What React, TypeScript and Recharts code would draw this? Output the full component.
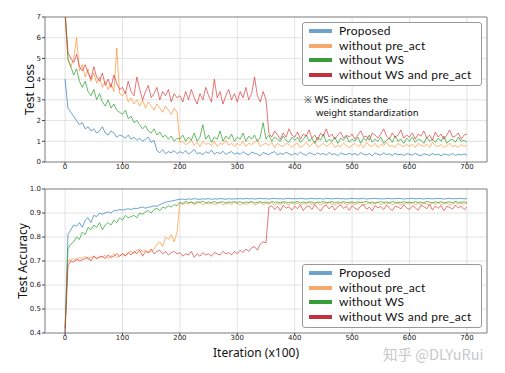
import React from "react";
import { CartesianGrid, Legend, Line, LineChart, ReferenceArea, XAxis, YAxis } from "recharts";

// x positions: one sample every 5 iterations (x100)
const ITERATIONS = Array.from({ length: 141 }, (_, i) => i * 5);
const X_TICKS = [0, 100, 200, 300, 400, 500, 600, 700];
const LOSS_TICKS = [0, 1, 2, 3, 4, 5, 6, 7];
const ACC_TICKS = [0.4, 0.5, 0.6, 0.7, 0.8, 0.9, 1.0];

// test loss
const LOSS_PROPOSED = [
  4.0, 2.6, 2.4, 2.2, 2.0, 1.8, 1.9, 1.6, 1.7, 1.5, 1.6, 1.4, 1.5, 1.7, 1.4, 1.3, 1.5, 1.4, 1.2, 1.3,
  1.25, 1.15, 1.3, 1.1, 1.2, 1.05, 1.15, 1.0, 1.1, 1.2, 0.95, 1.05, 0.55, 0.45, 0.6, 0.4, 0.5, 0.45, 0.55, 0.4,
  0.5, 0.42, 0.55, 0.38, 0.48, 0.6, 0.4, 0.45, 0.35, 0.5, 0.42, 0.58, 0.38, 0.47, 0.4, 0.52, 0.36, 0.45, 0.5, 0.38,
  0.44, 0.36, 0.5, 0.4, 0.33, 0.48, 0.42, 0.38, 0.3, 0.46, 0.4, 0.35, 0.45, 0.5, 0.34, 0.42, 0.37, 0.47, 0.4, 0.33,
  0.42, 0.35, 0.48, 0.38, 0.32, 0.45, 0.4, 0.34, 0.44, 0.37, 0.41, 0.33, 0.46, 0.36, 0.4, 0.31, 0.43, 0.38, 0.35, 0.42,
  0.36, 0.41, 0.32, 0.45, 0.38, 0.34, 0.4, 0.3, 0.43, 0.37, 0.33, 0.44, 0.36, 0.39, 0.31, 0.42, 0.35, 0.38, 0.32, 0.4,
  0.37, 0.33, 0.42, 0.35, 0.3, 0.4, 0.36, 0.32, 0.41, 0.34, 0.38, 0.3, 0.39, 0.35, 0.33, 0.41, 0.32, 0.37, 0.34, 0.39,
  0.33,
];
const LOSS_NO_PREACT = [
  7.2, 4.9, 4.6, 5.0, 6.0, 4.4, 4.7, 4.1, 4.5, 3.9, 4.3, 3.8, 4.1, 3.6, 3.9, 3.5, 3.8, 3.4, 5.5, 3.3,
  3.2, 3.4, 2.9, 3.1, 2.8, 3.0, 2.7, 3.0, 2.6, 2.9, 2.7, 2.5, 2.8, 2.6, 2.4, 2.7, 2.5, 2.3, 2.6, 2.4,
  0.95, 1.0, 0.85, 0.9, 1.05, 0.8, 0.95, 0.75, 1.0, 0.85, 0.9, 0.8, 1.0, 0.75, 0.9, 0.85, 1.05, 0.8, 0.9, 0.75,
  0.9, 0.8, 1.0, 0.75, 0.9, 0.85, 0.95, 1.05, 0.75, 0.85, 0.9, 0.8, 0.95, 0.7, 0.9, 0.8, 0.75, 0.9, 0.85, 0.7,
  0.85, 0.9, 0.7, 0.8, 0.95, 0.75, 0.85, 1.0, 0.7, 0.8, 0.9, 0.75, 0.85, 0.95, 0.7, 0.8, 0.75, 0.9, 0.8, 0.7,
  0.8, 0.9, 0.75, 0.85, 0.7, 0.95, 0.8, 0.75, 0.9, 0.7, 0.85, 0.8, 0.95, 0.75, 0.8, 0.7, 0.9, 0.8, 0.75, 0.85,
  0.75, 0.85, 0.7, 0.9, 0.8, 0.75, 0.85, 0.7, 0.95, 0.8, 0.75, 0.85, 0.7, 0.8, 0.9, 0.75, 0.8, 0.7, 0.85, 0.75,
  0.8,
];
const LOSS_NO_WS = [
  7.2, 5.0, 4.6, 4.2, 4.5, 3.9, 3.6, 3.9, 3.4, 3.2, 3.5, 3.0, 3.3, 2.9, 2.7, 3.0, 2.6, 2.8, 2.5, 2.4,
  2.3, 2.5, 2.1, 2.2, 1.9, 2.0, 1.8, 1.6, 1.75, 1.5, 1.4, 1.6, 1.3, 1.45, 1.2, 1.3, 1.1, 1.25, 1.0, 1.15,
  1.1, 1.3, 1.0, 1.2, 1.05, 1.4, 1.0, 1.2, 1.8, 1.1, 1.3, 0.95, 1.2, 1.1, 1.5, 1.0, 1.25, 1.1, 1.35, 1.0,
  1.2, 1.1, 1.4, 1.0, 1.25, 1.1, 1.3, 1.0, 1.2, 1.9, 1.1, 1.3, 1.0, 1.2, 1.1, 1.0, 1.25, 1.05, 0.95, 1.2,
  1.05, 1.2, 0.95, 1.1, 1.3, 1.0, 1.15, 0.9, 1.2, 1.05, 1.35, 0.95, 1.1, 1.0, 1.2, 0.9, 1.15, 1.05, 1.25, 0.95,
  1.1, 1.0, 1.2, 0.9, 1.15, 1.05, 1.3, 0.95, 1.1, 1.0, 1.2, 0.9, 1.05, 1.15, 0.95, 1.25, 1.0, 1.1, 0.9, 1.15,
  1.0, 1.2, 0.95, 1.1, 1.05, 0.9, 1.2, 1.0, 1.1, 0.95, 1.15, 1.0, 1.25, 0.9, 1.05, 1.1, 0.95, 1.2, 1.0, 1.05,
  0.95,
];
const LOSS_NO_WS_PREACT = [
  7.2, 5.3, 5.0, 4.8, 5.2, 4.6, 4.4, 4.7, 4.3, 4.0, 4.6, 4.1, 3.9, 4.3, 3.7, 4.0, 3.6, 4.2, 3.8, 3.5,
  3.6, 3.3, 3.9, 3.4, 3.2, 4.1, 3.5, 3.0, 3.4, 3.7, 3.1, 3.3, 3.6, 3.0, 3.4, 3.2, 3.5, 2.9, 3.3, 3.1,
  3.2, 2.9, 3.4, 3.0, 3.5, 3.1, 2.8, 3.3, 3.0, 3.6, 3.2, 2.9, 4.0, 3.1, 3.4, 2.8, 3.2, 3.5, 3.0, 3.3,
  2.9, 3.4, 3.1, 3.6, 3.0, 3.3, 4.1, 3.2, 2.9, 3.4, 3.0, 1.4, 1.2, 1.5, 1.3, 1.1, 1.4, 1.2, 1.6, 1.3,
  1.2, 1.45, 1.1, 1.35, 1.25, 1.55, 1.15, 1.3, 1.05, 1.4, 1.25, 1.6, 1.2, 1.35, 1.1, 1.3, 1.45, 1.15, 1.3, 1.2,
  1.35, 1.1, 1.3, 1.5, 1.2, 1.25, 1.05, 1.4, 1.3, 1.15, 1.35, 1.6, 1.25, 1.1, 1.4, 1.2, 1.3, 1.55, 1.15, 1.3,
  1.2, 1.4, 1.1, 1.35, 1.25, 1.5, 1.15, 1.3, 1.05, 1.45, 1.2, 1.35, 1.1, 1.3, 1.55, 1.2, 1.25, 1.4, 1.1, 1.3,
  1.35,
];

// test accuracy
const ACC_PROPOSED = [
  0.4, 0.81, 0.83, 0.85, 0.845, 0.86, 0.84, 0.87, 0.88, 0.86, 0.89, 0.885, 0.9, 0.895, 0.9, 0.905, 0.9, 0.91, 0.91, 0.915,
  0.912, 0.915, 0.918, 0.914, 0.92, 0.918, 0.922, 0.925, 0.92, 0.924, 0.926, 0.93, 0.928, 0.935, 0.94, 0.945, 0.948, 0.95, 0.952, 0.955,
  0.957, 0.958, 0.956, 0.959, 0.957, 0.96, 0.958, 0.957, 0.959, 0.958, 0.96, 0.957, 0.959, 0.958, 0.96, 0.959, 0.957, 0.96, 0.958, 0.959,
  0.959, 0.96, 0.958, 0.961, 0.959, 0.96, 0.958, 0.96, 0.961, 0.959, 0.96, 0.958, 0.96, 0.961, 0.959, 0.96, 0.958, 0.96, 0.961, 0.959,
  0.96, 0.959, 0.961, 0.96, 0.958, 0.96, 0.961, 0.959, 0.96, 0.96, 0.958, 0.961, 0.96, 0.959, 0.96, 0.961, 0.959, 0.96, 0.958, 0.96,
  0.961, 0.96, 0.959, 0.96, 0.961, 0.958, 0.96, 0.96, 0.961, 0.959, 0.96, 0.958, 0.961, 0.96, 0.959, 0.96, 0.961, 0.96, 0.958, 0.96,
  0.96, 0.961, 0.959, 0.96, 0.96, 0.958, 0.961, 0.96, 0.959, 0.96, 0.961, 0.96, 0.958, 0.96, 0.961, 0.959, 0.96, 0.96, 0.961, 0.959,
  0.96,
];
const ACC_NO_PREACT = [
  0.42, 0.7, 0.705, 0.71, 0.7, 0.715, 0.71, 0.72, 0.705, 0.715, 0.72, 0.71, 0.72, 0.715, 0.725, 0.71, 0.72, 0.73, 0.715, 0.72,
  0.73, 0.725, 0.735, 0.74, 0.73, 0.745, 0.75, 0.74, 0.745, 0.735, 0.74, 0.75, 0.77, 0.78, 0.76, 0.8, 0.79, 0.81, 0.78, 0.82,
  0.94, 0.935, 0.942, 0.938, 0.944, 0.936, 0.94, 0.946, 0.933, 0.941, 0.937, 0.943, 0.935, 0.94, 0.945, 0.934, 0.939, 0.942, 0.936, 0.944,
  0.938, 0.933, 0.942, 0.936, 0.94, 0.945, 0.934, 0.939, 0.943, 0.935, 0.941, 0.937, 0.944, 0.932, 0.94, 0.936, 0.943, 0.938, 0.934, 0.941,
  0.936, 0.942, 0.933, 0.94, 0.937, 0.945, 0.935, 0.939, 0.943, 0.934, 0.941, 0.936, 0.944, 0.938, 0.933, 0.94, 0.937, 0.942, 0.935, 0.939,
  0.941, 0.935, 0.94, 0.944, 0.933, 0.938, 0.942, 0.936, 0.939, 0.945, 0.934, 0.94, 0.937, 0.943, 0.935, 0.939, 0.941, 0.933, 0.938, 0.942,
  0.937, 0.943, 0.934, 0.94, 0.936, 0.942, 0.938, 0.933, 0.941, 0.936, 0.944, 0.935, 0.939, 0.942, 0.934, 0.938, 0.943, 0.936, 0.94, 0.937,
  0.94,
];
const ACC_NO_WS = [
  0.42, 0.75, 0.77, 0.78, 0.8, 0.79, 0.82, 0.81, 0.84, 0.83, 0.85, 0.84, 0.86, 0.83, 0.85, 0.86, 0.85, 0.87, 0.86, 0.88,
  0.87, 0.89, 0.88, 0.885, 0.89, 0.88, 0.9, 0.895, 0.905, 0.91, 0.9, 0.915, 0.92, 0.91, 0.925, 0.92, 0.93, 0.925, 0.935, 0.93,
  0.945, 0.94, 0.948, 0.943, 0.946, 0.94, 0.947, 0.944, 0.949, 0.942, 0.946, 0.943, 0.948, 0.941, 0.945, 0.947, 0.942, 0.946, 0.944, 0.948,
  0.943, 0.947, 0.941, 0.946, 0.944, 0.948, 0.942, 0.945, 0.947, 0.943, 0.946, 0.941, 0.948, 0.944, 0.946, 0.942, 0.947, 0.945, 0.943, 0.946,
  0.944, 0.948, 0.942, 0.946, 0.943, 0.947, 0.945, 0.941, 0.946, 0.944, 0.948, 0.943, 0.945, 0.947, 0.942, 0.946, 0.944, 0.948, 0.943, 0.945,
  0.946, 0.942, 0.947, 0.944, 0.945, 0.948, 0.943, 0.946, 0.941, 0.945, 0.947, 0.944, 0.946, 0.942, 0.948, 0.944, 0.945, 0.943, 0.947, 0.944,
  0.945, 0.943, 0.947, 0.944, 0.946, 0.942, 0.948, 0.945, 0.943, 0.946, 0.944, 0.947, 0.942, 0.945, 0.946, 0.943, 0.948, 0.944, 0.945, 0.946,
  0.944,
];
const ACC_NO_WS_PREACT = [
  0.4, 0.68, 0.7, 0.695, 0.71, 0.7, 0.705, 0.71, 0.715, 0.7, 0.72, 0.71, 0.715, 0.72, 0.71, 0.725, 0.715, 0.72, 0.73, 0.72,
  0.73, 0.72, 0.735, 0.725, 0.74, 0.73, 0.745, 0.72, 0.74, 0.735, 0.75, 0.73, 0.74, 0.745, 0.73, 0.74, 0.725, 0.735, 0.74, 0.73,
  0.735, 0.72, 0.73, 0.725, 0.74, 0.715, 0.73, 0.72, 0.735, 0.725, 0.73, 0.72, 0.735, 0.73, 0.725, 0.74, 0.73, 0.735, 0.725, 0.74,
  0.73, 0.745, 0.735, 0.75, 0.74, 0.755, 0.76, 0.745, 0.77, 0.78, 0.775, 0.925, 0.93, 0.915, 0.928, 0.91, 0.932, 0.92, 0.926, 0.912,
  0.928, 0.918, 0.933, 0.91, 0.925, 0.93, 0.915, 0.935, 0.92, 0.908, 0.927, 0.932, 0.917, 0.93, 0.912, 0.926, 0.934, 0.919, 0.928, 0.911,
  0.93, 0.92, 0.913, 0.929, 0.935, 0.916, 0.924, 0.909, 0.931, 0.922, 0.927, 0.914, 0.933, 0.92, 0.91, 0.928, 0.925, 0.917, 0.934, 0.921,
  0.915, 0.93, 0.922, 0.911, 0.932, 0.926, 0.918, 0.935, 0.913, 0.929, 0.92, 0.931, 0.909, 0.927, 0.924, 0.916, 0.933, 0.921, 0.928, 0.914,
  0.925,
];

const SERIES = [
  { key: "proposed", name: "Proposed", color: "#1f77b4", opacity: 0.75, swatch: "#6fa3cb" },
  { key: "noPreact", name: "without pre_act", color: "#ff7f0e", opacity: 0.65, swatch: "#f6a96b" },
  { key: "noWs", name: "without WS", color: "#2ca02c", opacity: 0.8, swatch: "#3a9b3a" },
  { key: "noWsPreact", name: "without WS and pre_act", color: "#d62728", opacity: 0.7, swatch: "#c4323e" },
];

const lossData = ITERATIONS.map((it, i) => ({
  it,
  proposed: LOSS_PROPOSED[i],
  noPreact: LOSS_NO_PREACT[i],
  noWs: LOSS_NO_WS[i],
  noWsPreact: LOSS_NO_WS_PREACT[i],
}));

const accData = ITERATIONS.map((it, i) => ({
  it,
  proposed: ACC_PROPOSED[i],
  noPreact: ACC_NO_PREACT[i],
  noWs: ACC_NO_WS[i],
  noWsPreact: ACC_NO_WS_PREACT[i],
}));

const LABEL_FONT = "'Noto Sans', 'Open Sans', sans-serif";
const TICK = { fontSize: 7, fill: "#222", fontFamily: "'DejaVu Sans', sans-serif" };

function BoxLegend() {
  return (
    <div
      style={{
        border: "1px solid #999",
        borderRadius: 3,
        background: "rgba(255,255,255,0.92)",
        padding: "1px 6px 3px 6px",
        boxSizing: "border-box",
        width: 180,
        fontFamily: "Lato, 'Noto Sans', sans-serif",
      }}
    >
      {SERIES.map((s) => (
        <div key={s.key} style={{ display: "flex", alignItems: "center", height: 14.5 }}>
          <span style={{ width: 23, height: 4, background: s.swatch, marginRight: 7, flex: "none" }} />
          <span style={{ fontSize: 12, letterSpacing: 0.25, color: "#111", whiteSpace: "nowrap", lineHeight: "14px" }}>
            {s.name}
          </span>
        </div>
      ))}
    </div>
  );
}

function Panel({
  data,
  height,
  top,
  bottom,
  yDomain,
  yTicks,
  yLabel,
  yLabelOffset,
  legendTop,
  fmt,
}: {
  data: Array<Record<string, number>>;
  height: number;
  top: number;
  bottom: number;
  yDomain: [number, number];
  yTicks: number[];
  yLabel: string;
  yLabelOffset: number;
  legendTop: number;
  fmt: (v: number) => string;
}) {
  return (
    <LineChart width={505} height={height} data={data} margin={{ top, right: 18, left: 0, bottom }}>
      <CartesianGrid stroke="#dcdcdc" strokeWidth={0.8} />
      <XAxis
        dataKey="it"
        type="number"
        domain={[-35, 735]}
        ticks={X_TICKS}
        allowDataOverflow
        axisLine={false}
        tickLine={{ stroke: "#444" }}
        tickSize={2.5}
        tickMargin={0}
        tick={TICK}
        height={18}
        interval={0}
      />
      <YAxis
        type="number"
        domain={yDomain}
        ticks={yTicks}
        allowDataOverflow
        axisLine={false}
        tickLine={{ stroke: "#444" }}
        tickSize={3}
        tickMargin={1}
        tick={TICK}
        width={45}
        interval={0}
        tickFormatter={fmt}
        label={{
          value: yLabel,
          angle: -90,
          position: "insideLeft",
          offset: yLabelOffset,
          style: { textAnchor: "middle", fontSize: 12, fontFamily: LABEL_FONT, fill: "#111" },
        }}
      />
      {SERIES.map((s) => (
        <Line
          key={s.key}
          dataKey={s.key}
          name={s.name}
          type="linear"
          stroke={s.color}
          strokeOpacity={s.opacity}
          strokeWidth={0.9}
          dot={false}
          activeDot={false}
          isAnimationActive={false}
        />
      ))}
      <ReferenceArea
        x1={-35}
        x2={735}
        y1={yDomain[0]}
        y2={yDomain[1]}
        fill="none"
        stroke="#888"
        strokeWidth={1}
        ifOverflow="visible"
      />
      <Legend
        layout="horizontal"
        verticalAlign="middle"
        content={() => <BoxLegend />}
        wrapperStyle={{ left: 302, top: legendTop, width: 180 }}
      />
    </LineChart>
  );
}

export default function App() {
  return (
    <div style={{ position: "absolute", left: 0, top: 0, width: 505, height: 373, background: "#fff", overflow: "hidden" }}>
      <div style={{ position: "absolute", left: 0, top: 0 }}>
        <Panel
          data={lossData}
          height={180}
          top={17}
          bottom={0}
          yDomain={[0, 7]}
          yTicks={LOSS_TICKS}
          yLabel="Test Loss"
          yLabelOffset={30}
          legendTop={22}
          fmt={(v) => String(v)}
        />
      </div>
      <div style={{ position: "absolute", left: 0, top: 180 }}>
        <Panel
          data={accData}
          height={193}
          top={9}
          bottom={22}
          yDomain={[0.4, 1.0]}
          yTicks={ACC_TICKS}
          yLabel="Test Accuracy"
          yLabelOffset={23}
          legendTop={84}
          fmt={(v) => v.toFixed(1)}
        />
      </div>
      <div
        style={{
          position: "absolute",
          left: 304,
          top: 94,
          fontSize: 9.5,
          lineHeight: "12.5px",
          fontFamily: LABEL_FONT,
          color: "#111",
          whiteSpace: "nowrap",
        }}
      >
        <div>※ WS indicates the</div>
        <div style={{ paddingLeft: 12 }}>weight standardization</div>
      </div>
      <div
        style={{
          position: "absolute",
          left: 213,
          top: 346,
          fontSize: 12,
          lineHeight: "14px",
          fontFamily: LABEL_FONT,
          color: "#111",
          whiteSpace: "nowrap",
        }}
      >
        Iteration (x100)
      </div>
      <div
        style={{
          position: "absolute",
          left: 383,
          top: 346,
          fontSize: 14.5,
          lineHeight: "16px",
          fontFamily: "'Noto Sans CJK SC', sans-serif",
          color: "#c8c8c8",
          whiteSpace: "nowrap",
        }}
      >
        知乎 @DLYuRui
      </div>
    </div>
  );
}
